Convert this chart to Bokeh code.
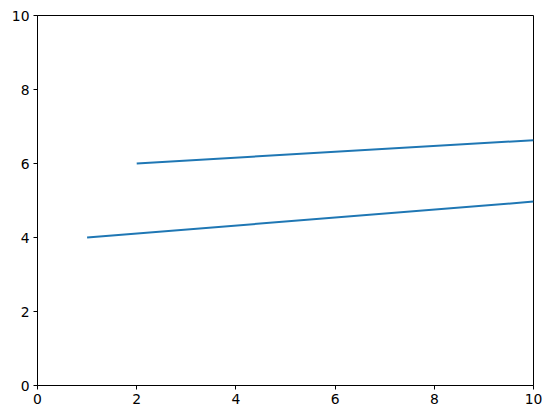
from bokeh.plotting import figure
from bokeh.models import Range1d, FixedTicker
from bokeh.embed import file_html
from bokeh.resources import INLINE

# Data
line1_x = [1, 10]
line1_y = [4, 4.97]
line2_x = [2, 10]
line2_y = [6, 6.63]
ticks = [0, 2, 4, 6, 8, 10]

p = figure(frame_width=496, frame_height=370, output_backend="svg",
           toolbar_location=None, x_range=Range1d(0, 10), y_range=Range1d(0, 10),
           min_border_left=37, min_border_right=11, min_border_top=15, min_border_bottom=25)
p.background_fill_color = "white"
p.border_fill_color = "white"
p.outline_line_color = "black"
p.outline_line_alpha = 1.0
p.outline_line_width = 1
p.xgrid.visible = False
p.ygrid.visible = False

for ax in (p.xaxis, p.yaxis):
    ax.ticker = FixedTicker(ticks=ticks)
    ax.minor_tick_line_color = None
    ax.major_tick_out = 4
    ax.major_tick_in = 0
    ax.major_tick_line_color = "black"
    ax.axis_line_color = "black"
    ax.major_label_text_font = "DejaVu Sans"
    ax.major_label_text_font_size = "13.9px"
    ax.major_label_text_color = "black"
    ax.major_label_standoff = 4

p.line(line1_x, line1_y, line_color="#1f77b4", line_width=2)
p.line(line2_x, line2_y, line_color="#1f77b4", line_width=2)

open("out.html", "w").write(file_html(p, INLINE))
